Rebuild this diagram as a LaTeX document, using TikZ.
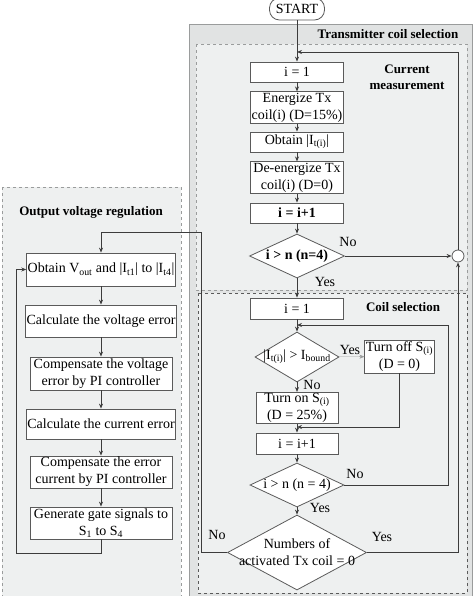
\documentclass[tikz,border=0pt]{standalone}
\usepackage{fontspec}
\setmainfont{Liberation Serif}
\usetikzlibrary{shapes.geometric,arrows.meta}

\definecolor{panelgray}{HTML}{EEF0F0}
\definecolor{framegray}{HTML}{E1E3E3}
\definecolor{edgegray}{HTML}{9A9C9C}
\definecolor{linegray}{HTML}{3C3C3C}
\definecolor{boxgray}{HTML}{5A5A5A}

\newcommand{\bodytext}{\fontsize{14}{17}\selectfont}
\newcommand{\paneltitle}{\fontsize{13}{16}\selectfont\bfseries}
\newcommand{\lowtxt}[1]{\textsubscript{#1}}

\begin{document}
\begin{tikzpicture}[x=1pt, y=-1pt, line width=0.8pt,
    >={Stealth[length=5pt,width=4pt]},
    stepbox/.style={draw=boxgray, fill=white, align=center, inner sep=1pt, font=\bodytext},
    decision/.style={diamond, draw=boxgray, fill=white, inner sep=0pt},
    dtext/.style={align=center, font=\bodytext},
    title/.style={align=center, font=\paneltitle},
    tag/.style={font=\bodytext, inner sep=0pt},
    flow/.style={draw=linegray, ->}]
        \useasboundingbox (0,0) rectangle (474,596);

        % Draw panels
        \filldraw[fill=framegray, draw=edgegray] (189,24) rectangle (472,600);
        \filldraw[fill=panelgray, draw=edgegray, dashed] (196,44) rectangle (467,290);
        \filldraw[fill=panelgray, draw=boxgray, dashed] (198,293) rectangle (467,593);
        \filldraw[fill=panelgray, draw=edgegray, dashed] (2,187) rectangle (181,600);

        \node[title] (tcs) at (388,34) {Transmitter coil selection};
        \node[title] (cmt) at (407,77) {Current\\measurement};
        \node[title] (cst) at (403,307) {Coil selection};
        \node[title] (ovt) at (91,212) {Output voltage regulation};

        % Draw vertices
        \node[draw=boxgray, fill=white, rounded corners=10pt, minimum width=55pt,
              minimum height=22pt, inner sep=1pt, font=\bodytext] (start) at (297,9) {START};

        \node[stepbox, minimum width=93pt, minimum height=20pt] (cm1) at (297,72) {i = 1};
        \node[stepbox, minimum width=93pt, minimum height=31pt] (cm2) at (297,107.5) {Energize Tx\\coil(i) (D=15\%)};
        \node[stepbox, minimum width=93pt, minimum height=20pt] (cm3) at (297,142) {Obtain |I\lowtxt{t(i)}|};
        \node[stepbox, minimum width=93pt, minimum height=31pt] (cm4) at (297,177.5) {De-energize Tx\\coil(i) (D=0)};
        \node[stepbox, minimum width=93pt, minimum height=20pt] (cm5) at (297,213) {\textbf{i = i+1}};
        \node[decision, minimum width=95pt, minimum height=44pt,
              label={[dtext]center:\textbf{i > n (n=4)}}] (cmd) at (297,256) {};
        \node[circle, draw=boxgray, fill=white, minimum size=12pt, inner sep=0pt] (jn) at (458,256) {};
        \coordinate (cmin) at (297,52);

        \node[stepbox, minimum width=93pt, minimum height=21pt] (cs1) at (297,308.5) {i = 1};
        \coordinate (csin) at (297,325);
        \coordinate (csloop) at (448,325);
        \node[decision, minimum width=84pt, minimum height=50pt,
              label={[dtext]center:|I\lowtxt{t(i)}| > I\lowtxt{bound}}] (csd1) at (297,357) {};
        \node[stepbox, minimum width=63pt, minimum height=33pt] (off) at (399.5,356.5) {Turn off S\lowtxt{(i)}\\(D = 0)};
        \node[stepbox, minimum width=82pt, minimum height=30pt] (on) at (297,408) {Turn on S\lowtxt{(i)}\\(D = 25\%)};
        \coordinate (csjoin) at (297,427);
        \node[stepbox, minimum width=82pt, minimum height=21pt] (inc) at (297,443.5) {i = i+1};
        \node[decision, minimum width=94pt, minimum height=44pt,
              label={[dtext]center:i > n (n = 4)}] (csd2) at (297,485) {};
        \node[decision, minimum width=139pt, minimum height=75pt,
              label={[dtext]center:Numbers of\\activated Tx coil = 0}] (csd3) at (297,552.5) {};
        \coordinate (nobend) at (201,232);

        \node[stepbox, minimum width=142pt, minimum height=33pt] (ovr1) at (101,269.5) {Obtain V\lowtxt{out} and |I\lowtxt{t1}| to |I\lowtxt{t4}|};
        \node[stepbox, minimum width=142pt, minimum height=32pt] (ovr2) at (101,321) {Calculate the voltage error};
        \node[stepbox, minimum width=142pt, minimum height=33pt] (ovr3) at (101,373.5) {Compensate the voltage\\error by PI controller};
        \node[stepbox, minimum width=142pt, minimum height=30pt] (ovr4) at (101,424) {Calculate the current error};
        \node[stepbox, minimum width=142pt, minimum height=32pt] (ovr5) at (101,472) {Compensate the error\\current by PI controller};
        \node[stepbox, minimum width=142pt, minimum height=32pt] (ovr6) at (101,523) {Generate gate signals to\\S\lowtxt{1} to S\lowtxt{4}};
        \coordinate (ovrback) at (16,553);

        % Draw labels
        \node[tag] (no1) at (348,242) {No};
        \node[tag] (yes1) at (325,282) {Yes};
        \node[tag] (yes2) at (350,350) {Yes};
        \node[tag] (no2) at (312,385) {No};
        \node[tag] (no3) at (355,474) {No};
        \node[tag] (yes3) at (320,508) {Yes};
        \node[tag] (no4) at (217,535) {No};
        \node[tag] (yes4) at (382,537) {Yes};

        % Draw edges
        \draw[flow] (start) -- (cm1);
        \draw[flow] (cm1) -- (cm2);
        \draw[flow] (cm2) -- (cm3);
        \draw[flow] (cm3) -- (cm4);
        \draw[flow] (cm4) -- (cm5);
        \draw[flow] (cm5) -- (cmd);
        \draw[flow] (cmd) -- (jn);
        \draw[flow] (jn) |- (cmin);
        \draw[flow] (cmd) -- (cs1);

        \draw[flow] (cs1) -- (csd1);
        \draw[flow, draw=edgegray, line width=0.4pt] (csd1) -- (off);
        \draw[flow] (csd1) -- (on);
        \draw[flow] (off) |- (csjoin);
        \draw[flow] (on) -- (inc);
        \draw[flow] (inc) -- (csd2);
        \draw[flow] (csd2) -| (csloop) -- (csin);
        \draw[flow] (csd2) -- (csd3);
        \draw[flow] (csd3) -| (jn);
        \draw[flow] (csd3) -| (nobend) -| (ovr1.north);

        \draw[flow] (ovr1) -- (ovr2);
        \draw[flow] (ovr2) -- (ovr3);
        \draw[flow] (ovr3) -- (ovr4);
        \draw[flow] (ovr4) -- (ovr5);
        \draw[flow] (ovr5) -- (ovr6);
        \draw[flow] (ovr6) |- (ovrback) |- (ovr1.west);
\end{tikzpicture}
\end{document}
